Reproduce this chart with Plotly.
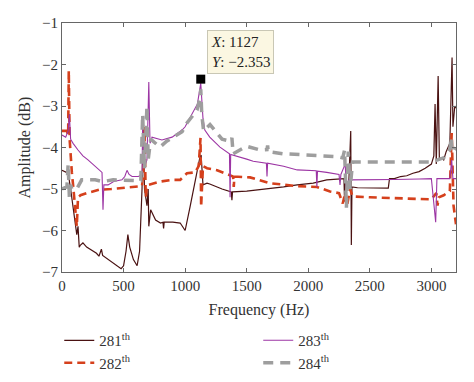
import plotly.graph_objects as go

# ---------------- data ----------------
f281 = [0, 50, 70, 100, 120, 130, 140, 150, 170, 200, 250, 280, 300, 320, 330, 380, 430, 480, 500, 520, 535, 550, 580, 610, 630, 650, 660, 670, 690, 700, 705, 720, 760, 800, 820, 825, 830, 900, 960, 1000, 1040, 1070, 1096, 1121, 1130, 1145, 1178, 1200, 1300, 1375, 1380, 1385, 1500, 1600, 1690, 1800, 1910, 2040, 2150, 2260, 2290, 2295, 2300, 2330, 2345, 2350, 2355, 2400, 2500, 2650, 2660, 2700, 2750, 2800, 2850, 2900, 2950, 3000, 3020, 3030, 3040, 3055, 3065, 3080, 3100, 3120, 3150, 3168, 3175, 3190, 3200]
a281 = [-4.55, -4.62, -5.0, -5.6, -6.1, -5.9, -6.4, -6.35, -6.3, -6.4, -6.5, -6.55, -6.62, -6.45, -6.6, -6.7, -6.8, -6.92, -6.85, -6.5, -6.1, -6.4, -6.7, -6.85, -6.5, -5.0, -3.45, -5.0, -5.4, -5.0, -5.9, -5.5, -5.75, -5.82, -5.8, -5.95, -5.8, -5.8, -5.82, -6.0, -5.43, -5.0, -4.54, -4.22, -4.18, -4.9, -4.86, -4.88, -5.0, -5.07, -5.27, -5.07, -5.05, -5.02, -5.0, -4.95, -4.9, -4.86, -4.78, -4.76, -4.75, -5.3, -4.85, -4.8, -3.6, -6.35, -4.95, -4.97, -4.97, -4.98, -4.75, -4.75, -4.7, -4.68, -4.62, -4.58, -4.5, -4.4, -4.2, -2.95, -4.4, -2.28, -4.3, -4.25, -4.3, -4.1, -3.9, -1.83, -3.5, -3.0, -3.05]

f282 = [0, 40, 50, 55, 62, 70, 80, 90, 100, 110, 120, 130, 150, 200, 300, 400, 500, 600, 650, 660, 670, 680, 690, 700, 800, 900, 960, 1015, 1080, 1110, 1125, 1130, 1145, 1178, 1260, 1390, 1395, 1400, 1527, 1690, 1800, 1910, 2070, 2177, 2250, 2280, 2300, 2315, 2340, 2360, 2500, 2700, 2900, 3000, 3040, 3050, 3060, 3100, 3150, 3165, 3180, 3200]
a282 = [-3.6, -3.6, -3.7, -2.15, -3.8, -4.3, -4.6, -4.9, -5.3, -5.7, -5.9, -5.2, -5.15, -5.1, -5.02, -5.0, -4.97, -4.95, -4.93, -4.6, -3.5, -5.2, -4.95, -4.9, -4.82, -4.78, -4.78, -4.62, -4.6, -4.45, -3.77, -5.43, -4.45, -4.5, -4.55, -4.7, -4.95, -4.7, -4.72, -4.86, -4.9, -4.93, -4.95, -5.06, -5.1, -5.35, -5.1, -5.4, -5.0, -5.18, -5.2, -5.22, -5.25, -5.25, -5.1, -5.4, -5.2, -5.15, -5.05, -3.65, -5.4, -5.85]

f283 = [0, 30, 50, 60, 70, 90, 130, 170, 211, 250, 292, 325, 333, 340, 374, 420, 487, 510, 528, 545, 569, 620, 650, 655, 665, 690, 705, 715, 731, 812, 894, 975, 1000, 1064, 1100, 1127, 1145, 1160, 1200, 1283, 1360, 1365, 1370, 1500, 1553, 1660, 1665, 1670, 1800, 1910, 2000, 2065, 2070, 2075, 2150, 2250, 2258, 2265, 2300, 2310, 2330, 2500, 2700, 2900, 3000, 3035, 3045, 3150, 3165, 3175, 3200]
a283 = [-3.7, -3.75, -3.6, -3.2, -3.8, -3.9, -4.06, -4.2, -4.3, -4.4, -4.5, -4.6, -5.5, -4.9, -4.9, -4.82, -4.78, -4.7, -4.55, -4.65, -4.7, -4.7, -4.65, -3.4, -4.5, -4.3, -2.42, -3.9, -3.75, -3.82, -3.75, -3.58, -3.5, -3.17, -2.95, -2.45, -3.3, -3.58, -3.75, -3.99, -4.15, -5.2, -4.17, -4.28, -4.33, -4.38, -4.7, -4.38, -4.45, -4.54, -4.55, -4.56, -4.95, -4.57, -4.6, -4.65, -4.9, -4.65, -4.4, -5.0, -4.78, -4.78, -4.77, -4.76, -4.75, -5.8, -4.75, -4.75, -4.3, -4.75, -4.75]

f284 = [0, 40, 50, 60, 70, 80, 120, 160, 270, 330, 415, 530, 600, 640, 655, 670, 690, 700, 720, 760, 796, 850, 902, 975, 1015, 1060, 1096, 1121, 1127, 1135, 1150, 1202, 1300, 1370, 1380, 1390, 1500, 1610, 1665, 1670, 1675, 1795, 1950, 2100, 2234, 2280, 2295, 2310, 2325, 2340, 2360, 2500, 2800, 3000, 3050, 3100, 3150, 3160, 3170, 3200]
a284 = [-5.0, -4.95, -4.4, -5.2, -4.9, -5.0, -5.0, -4.78, -4.78, -4.82, -4.78, -4.78, -4.8, -4.8, -3.2, -4.5, -3.0, -4.3, -3.8, -3.9, -3.99, -3.85, -3.75, -3.62, -3.41, -3.25, -3.1, -2.8, -2.6, -3.2, -3.6, -3.45, -3.8, -3.85, -3.77, -4.15, -3.97, -4.06, -4.05, -3.95, -4.1, -4.15, -4.18, -4.2, -4.22, -4.25, -4.06, -5.45, -4.1, -5.0, -4.35, -4.35, -4.35, -4.35, -4.3, -4.25, -4.05, -3.75, -4.13, -4.0]

series_names = ["281<sup>th</sup>", "282<sup>th</sup>", "283<sup>th</sup>", "284<sup>th</sup>"]
tip_x = [1127]
tip_y = [-2.353]
y_tickvals = [-1, -2, -3, -4, -5, -6, -7]
y_ticktext = ["\u22121", "\u22122", "\u22123", "\u22124", "\u22125", "\u22126", "\u22127"]
x_tickvals = [0, 500, 1000, 1500, 2000, 2500, 3000]

# ---------------- figure ----------------
FONT = "Liberation Serif"
fig = go.Figure()
fig.add_trace(go.Scatter(x=f281, y=a281, mode="lines", name=series_names[0],
                         line=dict(color="#4a1212", width=1.2), legend="legend"))
fig.add_trace(go.Scatter(x=f282, y=a282, mode="lines", name=series_names[1],
                         line=dict(color="#d5401c", width=2.6, dash="8px,5px"), legend="legend"))
fig.add_trace(go.Scatter(x=f283, y=a283, mode="lines", name=series_names[2],
                         line=dict(color="#9c35a4", width=1.1), legend="legend2"))
fig.add_trace(go.Scatter(x=f284, y=a284, mode="lines", name=series_names[3],
                         line=dict(color="#9e9e9e", width=3.5, dash="10px,7px"), legend="legend2"))
fig.add_trace(go.Scatter(x=tip_x, y=tip_y, mode="markers", showlegend=False,
                         marker=dict(symbol="square", size=9, color="black")))

fig.add_annotation(x=1178, y=-1.17, xref="x", yref="y", xanchor="left", yanchor="top",
                   text="<i>X</i>: 1127<br><i>Y</i>: \u22122.353", showarrow=False, align="left",
                   font=dict(family=FONT, size=15, color="#222"),
                   bgcolor="#fbf7e2", bordercolor="#c9c7b5", borderwidth=1, borderpad=3)
# y-axis title drawn as a rotated annotation
fig.add_annotation(x=-0.094, y=0.5, xref="paper", yref="paper", xanchor="center", yanchor="middle",
                   text="Amplitude (dB)", textangle=-90, showarrow=False,
                   font=dict(family=FONT, size=16, color="#333"))

axis_common = dict(showgrid=False, zeroline=False, showline=True, linecolor="#666",
                   linewidth=1, mirror="ticks", ticks="inside", ticklen=4, tickcolor="#666",
                   tickfont=dict(family=FONT, size=15, color="#333"))
fig.update_xaxes(range=[0, 3200], tickvals=x_tickvals,
                 title=dict(text="Frequency (Hz)", font=dict(family=FONT, size=16, color="#333"), standoff=10),
                 **axis_common)
fig.update_yaxes(range=[-7, -1], tickvals=y_tickvals, ticktext=y_ticktext, **axis_common)

leg_common = dict(font=dict(family=FONT, size=15, color="#333"), bgcolor="rgba(0,0,0,0)",
                  orientation="v", xanchor="left", yanchor="top", tracegroupgap=0,
                  xref="container", yref="container")
# the page body adds an 8px offset, so the figure is 8px smaller and margins shifted
fig.update_layout(
    width=466, height=374,
    margin=dict(l=54, r=18, t=15, b=110, autoexpand=False),
    paper_bgcolor="white", plot_bgcolor="white",
    legend=dict(x=0.110, y=0.155, **leg_common),
    legend2=dict(x=0.537, y=0.155, **leg_common),
)
fig.write_html("out.html")
